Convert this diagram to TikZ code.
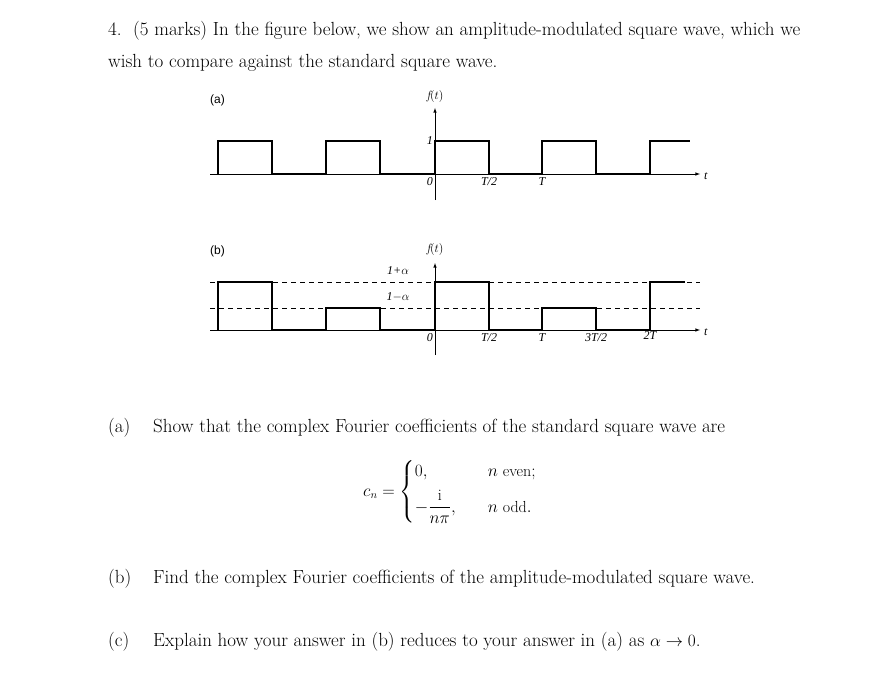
\documentclass[tikz,border=0pt]{standalone}
\usepackage{amsmath}
\usepackage{fontspec}
\newfontfamily\lab{Liberation Sans}
\newfontfamily\tim{Liberation Serif}
\begin{document}
\begin{tikzpicture}[x=1pt,y=-1pt,
  body/.style={anchor=base west,inner sep=0pt,font=\fontsize{19}{24}\selectfont},
  sm/.style={inner sep=1pt,font=\fontsize{12}{14}\selectfont\tim\itshape},
  plab/.style={anchor=west,inner sep=0pt,font=\fontsize{12}{14}\selectfont\lab},
  wave/.style={line width=2.4pt},
  axis/.style={line width=0.6pt,-latex},
  dline/.style={dash pattern=on 5pt off 4pt,line width=0.6pt}]
\useasboundingbox (0,0) rectangle (889,682);
% text
\node[body] (t1) at (108,36) {4.\ \ (5 marks) In the figure below, we show an amplitude-modulated square wave, which we};
\node[body] (t2) at (108,68) {wish to compare against the standard square wave.};
% plot a
\node[plab] (la) at (210,100) {(a)};
\draw[axis] (210,174) -- (700,174);
\draw[axis] (435,200) -- (435,108);
\node[sm,anchor=south] (fa) at (435,104) {$\mathit{f}(t)$};
\node[sm,anchor=east] (one) at (434,141) {1};
\node[sm,anchor=north east] (za) at (434,176) {0};
\node[sm,anchor=north] (ha) at (489,176) {T/2};
\node[sm,anchor=north] (Ta) at (542,176) {T};
\node[sm,anchor=west] (ta) at (703,176) {t};
\draw[wave] (218,174) -- (218,141) -- (272,141) -- (272,174) -- (326,174) -- (326,141) -- (380,141) -- (380,174) -- (435,174) -- (435,141) -- (489,141) -- (489,174) -- (542,174) -- (542,141) -- (596,141) -- (596,174) -- (650,174) -- (650,141) -- (690,141);
% plot b
\node[plab] (lb) at (210,251) {(b)};
\draw[dline] (210,282) -- (700,282);
\draw[dline] (210,308) -- (700,308);
\draw[axis] (210,330) -- (700,330);
\draw[axis] (435,355) -- (435,263);
\node[sm,anchor=south] (fb) at (435,257) {$\mathit{f}(t)$};
\node[sm,fill=white] (lp) at (398,271) {1+$\alpha$};
\node[sm,fill=white] (lm) at (398,297) {1$-\alpha$};
\node[sm,anchor=north east] (zb) at (434,332) {0};
\node[sm,anchor=north] (hb) at (489,332) {T/2};
\node[sm,anchor=north] (Tb) at (542,332) {T};
\node[sm,anchor=north] (3b) at (596,332) {3T/2};
\node[sm,anchor=north] (2b) at (650,330) {2T};
\node[sm,anchor=west] (tb) at (703,332) {t};
\draw[wave] (218,330) -- (218,282) -- (272,282) -- (272,330) -- (326,330) -- (326,308) -- (380,308) -- (380,330) -- (435,330) -- (435,282) -- (489,282) -- (489,330) -- (542,330) -- (542,308) -- (596,308) -- (596,330) -- (650,330) -- (650,282) -- (685,282);
% questions
\node[body] (qa) at (108,432) {(a)};
\node[body] (qat) at (153,432) {Show that the complex Fourier coefficients of the standard square wave are};
\node[inner sep=0pt,font=\fontsize{16}{20}\selectfont] (eq) at (450,492) {$c_n=\begin{cases}0, & \quad n\ \text{even};\\[6pt] -\dfrac{\mathrm{i}}{n\pi}, & \quad n\ \text{odd}.\end{cases}$};
\node[body] (qb) at (108,583) {(b)};
\node[body] (qbt) at (153,583) {Find the complex Fourier coefficients of the amplitude-modulated square wave.};
\node[body] (qc) at (108,646) {(c)};
\node[body] (qct) at (153,646) {Explain how your answer in (b) reduces to your answer in (a) as $\alpha\to0$.};
\end{tikzpicture}
\end{document}
